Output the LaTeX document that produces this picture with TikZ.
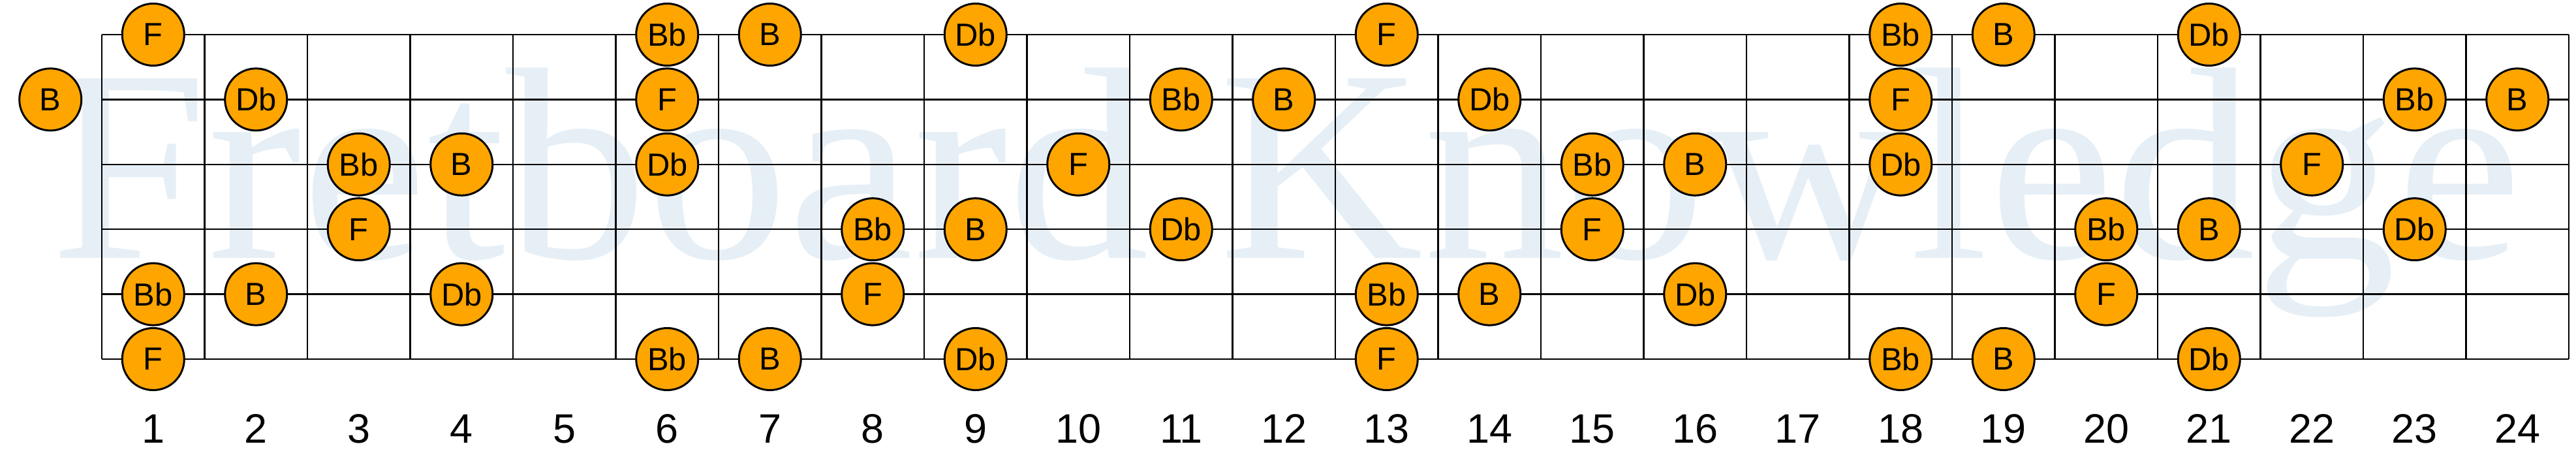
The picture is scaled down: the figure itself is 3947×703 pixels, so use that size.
\documentclass[tikz,border=0pt]{standalone}
\usepackage{fontspec}
\setmainfont{Liberation Sans}
\newfontfamily\wmfont{Liberation Serif}
\usetikzlibrary{positioning}
\definecolor{noteorange}{RGB}{255,165,0}
\definecolor{wmblue}{RGB}{230,239,246}

\begin{document}
\begin{tikzpicture}[
    x=0.01cm, y=-0.01cm,
    % 全域樣式設定
    fret line/.style={line width=0.65pt, black}, % 琴弦與琴格線
    note/.style={circle, draw, line width=0.85pt, fill=noteorange, minimum size=0.95cm, inner sep=0pt,
        font=\fontsize{13.9}{16}\selectfont}, % 音名圓點
    fret number/.style={font=\fontsize{17.9}{20}\selectfont, inner sep=0pt}, % 下方格數
    watermark/.style={text=wmblue, font=\wmfont\fontsize{119.5}{120}\selectfont, inner sep=0pt, anchor=base west}
]
    \useasboundingbox (0,0) rectangle (3947,703);

    % --- 1. 背景浮水印 ---
    \node[watermark] (mark) at (77,395) {\scalebox{1.03}[1]{Fretboard Knowledge}};

    % --- 2. 琴弦 (橫線) 與琴格 (直線) ---
    \foreach \s in {0,...,5}
        \draw[fret line] (156,{53+99.4*\s}) -- (3936,{53+99.4*\s});
    \foreach \f in {0,...,24}
        \draw[fret line] ({156+157.5*\f},53) -- ({156+157.5*\f},550);

    % --- 3. 格數標示 ---
    \foreach \f in {1,...,24}
        \node[fret number] (num\f) at ({156+157.5*\f-78.75},657) {\f};

    % --- 4. 音名 (格數/弦/音名) ---
    \foreach \f/\s/\n in {
        1/1/F, 6/1/Bb, 7/1/B, 9/1/Db, 13/1/F, 18/1/Bb, 19/1/B, 21/1/Db,
        0/2/B, 2/2/Db, 6/2/F, 11/2/Bb, 12/2/B, 14/2/Db, 18/2/F, 23/2/Bb, 24/2/B,
        3/3/Bb, 4/3/B, 6/3/Db, 10/3/F, 15/3/Bb, 16/3/B, 18/3/Db, 22/3/F,
        3/4/F, 8/4/Bb, 9/4/B, 11/4/Db, 15/4/F, 20/4/Bb, 21/4/B, 23/4/Db,
        1/5/Bb, 2/5/B, 4/5/Db, 8/5/F, 13/5/Bb, 14/5/B, 16/5/Db, 20/5/F,
        1/6/F, 6/6/Bb, 7/6/B, 9/6/Db, 13/6/F, 18/6/Bb, 19/6/B, 21/6/Db}
        \node[note] (n\s-\f) at ({156+157.5*\f-78.75},{53+99.4*(\s-1)}) {\n};

\end{tikzpicture}
\end{document}
